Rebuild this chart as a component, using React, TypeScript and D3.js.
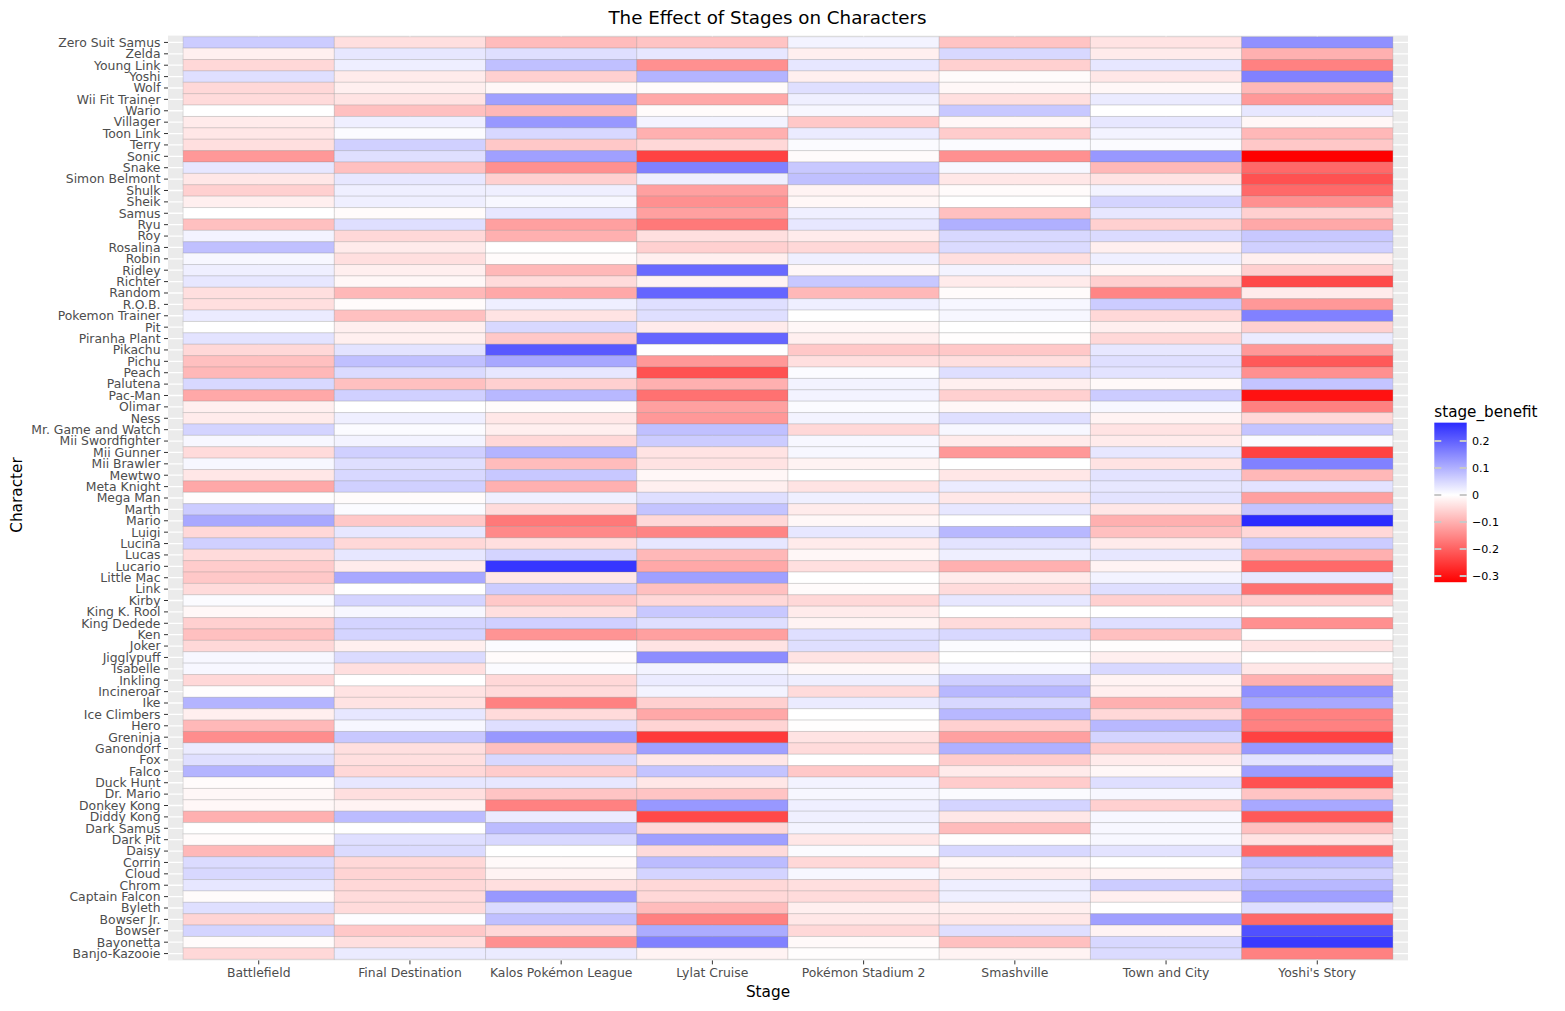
import * as d3 from 'd3';

const CHARACTERS = [
  'Zero Suit Samus', 'Zelda', 'Young Link', 'Yoshi', 'Wolf', 'Wii Fit Trainer', 'Wario', 'Villager', 'Toon Link', 'Terry',
  'Sonic', 'Snake', 'Simon Belmont', 'Shulk', 'Sheik', 'Samus', 'Ryu', 'Roy', 'Rosalina', 'Robin',
  'Ridley', 'Richter', 'Random', 'R.O.B.', 'Pokemon Trainer', 'Pit', 'Piranha Plant', 'Pikachu', 'Pichu', 'Peach',
  'Palutena', 'Pac-Man', 'Olimar', 'Ness', 'Mr. Game and Watch', 'Mii Swordfighter', 'Mii Gunner', 'Mii Brawler', 'Mewtwo', 'Meta Knight',
  'Mega Man', 'Marth', 'Mario', 'Luigi', 'Lucina', 'Lucas', 'Lucario', 'Little Mac', 'Link', 'Kirby',
  'King K. Rool', 'King Dedede', 'Ken', 'Joker', 'Jigglypuff', 'Isabelle', 'Inkling', 'Incineroar', 'Ike', 'Ice Climbers',
  'Hero', 'Greninja', 'Ganondorf', 'Fox', 'Falco', 'Duck Hunt', 'Dr. Mario', 'Donkey Kong', 'Diddy Kong', 'Dark Samus',
  'Dark Pit', 'Daisy', 'Corrin', 'Cloud', 'Chrom', 'Captain Falcon', 'Byleth', 'Bowser Jr.', 'Bowser', 'Bayonetta',
  'Banjo-Kazooie',
];

const STAGES = ['Battlefield', 'Final Destination', 'Kalos Pokémon League', 'Lylat Cruise', 'Pokémon Stadium 2', 'Smashville', 'Town and City', "Yoshi's Story"];

const battlefield = [
  0.065, -0.02, -0.05, 0.04, -0.05, -0.045, 0, -0.025, -0.03, -0.04,
  -0.13, 0.03, -0.03, -0.06, -0.02, 0, -0.08, 0.015, 0.08, 0.01,
  0.02, 0.03, -0.04, -0.04, 0.025, 0, 0.035, -0.05, -0.08, -0.09,
  0.05, -0.11, -0.02, -0.025, 0.055, 0.01, -0.045, 0.01, -0.03, -0.11,
  -0.003, 0.065, 0.11, -0.05, 0.06, -0.045, -0.065, -0.07, -0.045, 0.005,
  -0.01, -0.06, -0.08, -0.05, 0.01, 0.01, -0.05, -0.003, 0.095, -0.02,
  -0.09, -0.145, 0.025, 0.04, 0.095, -0.005, -0.01, -0.01, -0.1, 0,
  -0.005, -0.09, 0.045, 0.05, 0.03, -0.005, 0.04, -0.055, 0.055, -0.005,
  -0.05,
];
const finalDestination = [
  -0.04, 0.03, 0.02, -0.025, -0.02, -0.035, -0.08, 0.02, 0.005, 0.06,
  0.04, -0.08, 0.03, 0.02, 0.02, -0.005, 0.04, -0.05, -0.025, -0.04,
  -0.02, -0.01, -0.09, -0.005, -0.08, -0.02, -0.02, 0.035, 0.08, 0.045,
  -0.08, 0.06, 0, 0.02, 0.005, 0.015, 0.06, 0.04, 0.05, 0.06,
  -0.005, 0.005, -0.07, 0.03, -0.05, 0.03, -0.025, 0.11, 0, 0.055,
  0.01, 0.055, 0.055, -0.02, 0.045, -0.04, 0, -0.035, -0.035, 0.03,
  0.01, 0.07, -0.04, -0.04, -0.05, 0.03, -0.04, -0.015, 0.085, 0,
  0.04, 0.045, -0.05, -0.055, -0.05, -0.045, -0.045, 0.003, -0.07, -0.04,
  0.025,
];
const kalosPokemonLeague = [
  -0.085, 0.04, 0.08, -0.06, -0.01, 0.12, -0.09, 0.13, 0.05, -0.07,
  0.12, -0.14, -0.06, 0.02, 0.01, 0.03, -0.12, -0.1, 0, -0.005,
  -0.09, -0.045, -0.11, 0.02, -0.035, 0.05, -0.07, 0.21, 0.11, 0.03,
  -0.06, 0.09, -0.005, -0.03, -0.02, -0.05, 0.095, -0.085, 0.07, -0.1,
  0.02, -0.045, -0.17, -0.15, -0.04, 0.055, 0.255, -0.03, 0.065, -0.07,
  -0.04, 0.06, -0.135, 0.005, -0.005, 0.005, -0.05, -0.045, -0.16, -0.045,
  0.04, 0.13, -0.08, 0.05, -0.065, 0.03, -0.075, -0.16, 0.025, 0.085,
  0.05, 0, -0.007, -0.015, -0.04, 0.13, 0.045, 0.08, -0.05, -0.14,
  0.025,
];
const lylatCruise = [
  -0.075, 0.03, -0.14, 0.095, -0.005, -0.11, -0.005, 0.015, -0.1, -0.05,
  -0.24, 0.16, 0.02, -0.12, -0.14, -0.12, -0.17, -0.04, -0.06, -0.02,
  0.19, -0.015, 0.195, 0.04, 0.04, -0.025, 0.195, 0, -0.13, -0.22,
  -0.1, -0.18, -0.12, -0.13, 0.08, 0.065, -0.035, -0.035, -0.01, -0.02,
  0.04, 0.075, -0.05, -0.155, 0.03, -0.09, -0.11, 0.12, -0.08, -0.05,
  0.07, 0.04, -0.12, -0.035, 0.145, 0.015, 0.025, 0.015, -0.06, -0.11,
  -0.055, -0.25, 0.12, -0.03, 0.075, -0.03, -0.075, 0.13, -0.23, -0.05,
  0.12, -0.045, 0.085, 0.055, -0.05, -0.05, -0.085, -0.16, 0.105, 0.16,
  -0.015,
];
const pokemonStadium2 = [
  0.015, -0.02, 0.03, -0.02, 0.04, 0.02, 0.01, -0.07, 0.025, 0.005,
  -0.005, 0.07, 0.08, -0.015, -0.01, 0.02, 0.03, -0.025, -0.05, 0.02,
  -0.01, 0.07, -0.09, 0.02, 0, -0.01, -0.02, -0.07, -0.04, 0.005,
  0.015, 0.015, 0.005, 0.015, -0.05, 0.01, 0.01, -0.015, 0, -0.035,
  0.02, -0.025, -0.01, 0.03, -0.025, -0.01, -0.04, 0, -0.005, -0.05,
  -0.025, -0.015, 0.04, 0.04, -0.035, -0.01, 0.02, -0.045, 0.025, 0,
  -0.003, -0.035, -0.045, 0, -0.07, 0.015, 0.01, 0.02, 0.02, 0.015,
  -0.03, 0.005, -0.05, 0.01, -0.04, -0.045, -0.02, -0.03, -0.05, -0.007,
  -0.003,
];
const smashville = [
  -0.075, 0.05, -0.06, -0.005, -0.01, -0.04, 0.07, -0.01, -0.065, 0.005,
  -0.14, 0.01, -0.03, -0.005, 0, -0.08, 0.1, 0.05, 0.045, -0.04,
  0.015, -0.025, -0.005, 0.01, 0.01, 0, -0.003, -0.07, -0.04, 0.04,
  -0.02, -0.06, -0.01, 0.04, 0.01, -0.025, -0.13, 0, -0.03, 0.025,
  -0.03, 0.03, 0, 0.09, 0.035, 0.02, -0.1, -0.025, -0.045, 0.03,
  0, -0.045, 0.05, 0.005, 0, 0.01, 0.06, 0.09, 0.05, 0.09,
  -0.06, -0.12, 0.1, -0.065, -0.025, -0.065, 0.005, 0.055, -0.03, -0.085,
  -0.003, 0.05, -0.01, -0.025, 0.02, 0.02, -0.02, -0.03, 0.04, -0.08,
  -0.015,
];
const townAndCity = [
  -0.035, -0.025, 0.03, -0.03, -0.01, 0.025, 0, 0.03, 0.015, 0.005,
  0.13, -0.09, -0.035, 0.015, 0.055, 0.03, -0.06, 0.045, -0.02, 0.02,
  -0.01, -0.06, -0.155, 0.065, -0.05, -0.02, -0.05, 0.03, 0.04, 0.035,
  -0.007, 0.065, 0.01, -0.015, -0.035, -0.025, 0.03, -0.035, 0.035, 0.03,
  0.035, -0.03, -0.1, -0.08, -0.025, 0.03, -0.015, 0.015, 0.04, -0.06,
  0, 0.04, -0.08, -0.002, -0.02, 0.05, -0.015, -0.02, -0.1, -0.05,
  0.09, 0.055, -0.065, -0.025, -0.01, 0.04, 0.01, -0.06, 0.01, 0.01,
  0.01, 0.035, 0, -0.015, 0.065, -0.02, 0, 0.12, -0.015, 0.05,
  0.045,
];
const yoshisStory = [
  0.14, -0.1, -0.16, 0.16, -0.09, -0.13, 0.03, -0.01, -0.09, -0.07,
  -0.323, -0.19, -0.22, -0.19, -0.14, -0.06, -0.11, 0.07, 0.06, -0.02,
  -0.06, -0.23, -0.025, -0.13, 0.16, -0.06, 0.025, -0.13, -0.21, -0.14,
  0.075, -0.3, -0.16, -0.05, 0.075, 0.005, -0.24, 0.16, -0.09, 0.035,
  -0.12, 0.075, 0.268, -0.05, 0.065, -0.1, -0.19, 0.03, -0.18, -0.06,
  0, -0.14, 0, -0.035, 0, -0.03, -0.1, 0.14, 0.11, -0.16,
  -0.16, -0.24, 0.13, 0.035, 0.125, -0.22, -0.075, 0.11, -0.21, -0.08,
  -0.035, -0.19, 0.08, 0.06, 0.09, 0.12, 0.04, -0.19, 0.22, 0.25,
  -0.16,
];
const STAGE_VALUES = [battlefield, finalDestination, kalosPokemonLeague, lylatCruise, pokemonStadium2, smashville, townAndCity, yoshisStory];

const LEGEND_TICKS = [0.2, 0.1, 0, -0.1, -0.2, -0.3];

const WIDTH = 1565;
const HEIGHT = 1011;
const panel = { left: 168, right: 1408, top: 35.6, bottom: 960.4 };
const FONT = '"DejaVu Sans", sans-serif';
const TICK_TEXT = '#4d4d4d';

const xScale = d3.scaleBand<string>().domain(STAGES).range([panel.left, panel.right]).paddingInner(0).paddingOuter(0.1);
const yScale = d3.scaleBand<string>().domain(CHARACTERS).range([panel.top, panel.bottom]).paddingInner(0).paddingOuter(0.1);

const allValues = STAGE_VALUES.flat();
const minVal = d3.min(allValues) as number;
const maxVal = d3.max(allValues) as number;
const limit = Math.max(Math.abs(minVal), Math.abs(maxVal));
const fill = d3.scaleLinear<string>().domain([-limit, 0, limit]).range(['#ff0000', '#ffffff', '#0000ff']);

const legendY = d3.scaleLinear().domain([-0.3, 0.2]).range([576, 441]);
const legend = { x: 1434.3, width: 32.4 };
const legendTop = legendY(maxVal);
const legendBottom = legendY(minVal);
const gradStops = d3.ticks(minVal, maxVal, 12).concat([minVal, maxVal]).sort((a, b) => b - a);

const fmt = (v: number) => (v === 0 ? '0' : d3.format('.1f')(v).replace('-', '\u2212'));

export default function App() {
  const xMid = (s: string) => (xScale(s) as number) + xScale.bandwidth() / 2;
  const yMid = (c: string) => (yScale(c) as number) + yScale.bandwidth() / 2;

  return (
    <svg width={WIDTH} height={HEIGHT} style={{ position: 'absolute', left: 0, top: 0, background: '#fff' }} fontFamily={FONT}>
      <defs>
        <linearGradient id="bar-grad" x1="0" y1="0" x2="0" y2="1">
          {gradStops.map(v => (
            <stop key={v} offset={(legendY(v) - legendTop) / (legendBottom - legendTop)} stopColor={fill(v)} />
          ))}
        </linearGradient>
      </defs>

      <text x={767.5} y={24} textAnchor="middle" fontSize={18.3} fill="#000">The Effect of Stages on Characters</text>

      <rect x={panel.left} y={panel.top} width={panel.right - panel.left} height={panel.bottom - panel.top} fill="#ebebeb" />
      {CHARACTERS.map(c => (
        <line key={c} x1={panel.left} x2={panel.right} y1={yMid(c)} y2={yMid(c)} stroke="#fff" strokeWidth={1.3} />
      ))}
      {STAGES.map(s => (
        <line key={s} x1={xMid(s)} x2={xMid(s)} y1={panel.top} y2={panel.bottom} stroke="#fff" strokeWidth={1.3} />
      ))}

      {STAGES.map((s, si) =>
        CHARACTERS.map((c, ci) => (
          <rect
            key={s + c}
            x={xScale(s)}
            y={yScale(c)}
            width={xScale.bandwidth()}
            height={yScale.bandwidth()}
            fill={fill(STAGE_VALUES[si][ci])}
            stroke="#808080"
            strokeOpacity={0.22}
            strokeWidth={1}
          />
        )),
      )}

      {CHARACTERS.map(c => (
        <g key={c}>
          <line x1={164} x2={panel.left} y1={yMid(c)} y2={yMid(c)} stroke="#333" strokeWidth={1} />
          <text x={160.5} y={yMid(c)} dy="0.35em" textAnchor="end" fontSize={12.4} fill={TICK_TEXT}>{c}</text>
        </g>
      ))}
      {STAGES.map(s => (
        <g key={s}>
          <line x1={xMid(s)} x2={xMid(s)} y1={panel.bottom} y2={panel.bottom + 4} stroke="#333" strokeWidth={1} />
          <text x={xMid(s)} y={977} textAnchor="middle" fontSize={12.4} fill={TICK_TEXT}>{s}</text>
        </g>
      ))}

      <text x={768} y={997} textAnchor="middle" fontSize={15.3} fill="#000">Stage</text>
      <text transform="translate(22,495) rotate(-90)" textAnchor="middle" fontSize={15.3} fill="#000">Character</text>

      <text x={legend.x} y={417} fontSize={15.2} fill="#000">stage_benefit</text>
      <rect x={legend.x} y={legendTop} width={legend.width} height={legendBottom - legendTop} fill="url(#bar-grad)" />
      {LEGEND_TICKS.map(t => (
        <g key={t}>
          <line x1={legend.x} x2={legend.x + 7} y1={legendY(t)} y2={legendY(t)} stroke="#c8c8c8" strokeWidth={2} />
          <line x1={legend.x + legend.width - 7} x2={legend.x + legend.width} y1={legendY(t)} y2={legendY(t)} stroke="#c8c8c8" strokeWidth={2} />
          <text x={1472} y={legendY(t)} dy="0.38em" fontSize={11.1} fill="#000">{fmt(t)}</text>
        </g>
      ))}
    </svg>
  );
}
